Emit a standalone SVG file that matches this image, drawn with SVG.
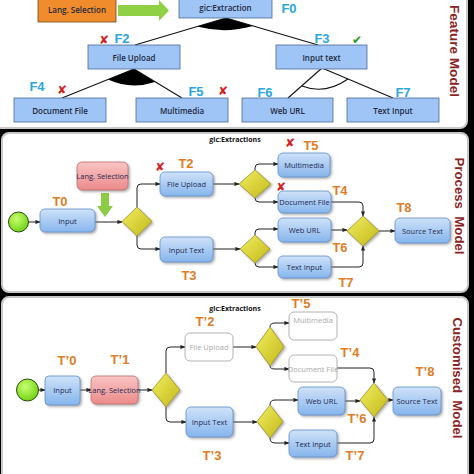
<svg xmlns="http://www.w3.org/2000/svg" width="474" height="474" viewBox="0 0 474 474">
<defs>
<linearGradient id="gb" x1="0" y1="0" x2="0" y2="1"><stop offset="0" stop-color="#cfe2f9"/><stop offset="1" stop-color="#86b5ec"/></linearGradient>
<linearGradient id="gp" x1="0" y1="0" x2="0" y2="1"><stop offset="0" stop-color="#f9c4c4"/><stop offset="1" stop-color="#ec8a8a"/></linearGradient>
<linearGradient id="gy" x1="0" y1="0" x2="1" y2="1"><stop offset="0" stop-color="#f2ee60"/><stop offset="1" stop-color="#c2b818"/></linearGradient>
<radialGradient id="gg" cx="0.4" cy="0.35" r="0.7"><stop offset="0" stop-color="#c8ff70"/><stop offset="1" stop-color="#6cd010"/></radialGradient>
<filter id="sh" x="-20%" y="-20%" width="150%" height="160%"><feDropShadow dx="1.5" dy="1.5" stdDeviation="1" flood-color="#777" flood-opacity="0.6"/></filter>
<marker id="ah" viewBox="0 0 6 6" refX="5.5" refY="3" markerWidth="5" markerHeight="5" orient="auto" markerUnits="userSpaceOnUse"><path d="M0,0.5 L6,3 L0,5.5 Z" fill="#222"/></marker>
<style>
.panel{fill:#fff;stroke:#c8c8c8;stroke-width:2}
.fm{fill:#9fc4f6;stroke:#4a6a98;stroke-width:0.8}
.fmt{font-family:"Open Sans","DejaVu Sans",sans-serif;font-size:8px;font-weight:600;fill:#1e2a40;text-anchor:middle;dominant-baseline:central}
.pb{fill:url(#gb);stroke:#5f8fcc;stroke-width:0.8;filter:url(#sh)}
.pk{fill:url(#gp);stroke:#c06c6c;stroke-width:0.8;filter:url(#sh)}
.wb{fill:#fff;stroke:#a0a0a0;stroke-width:0.8}
.dm{fill:url(#gy);stroke:#9a9020;stroke-width:0.8;filter:url(#sh)}
.pt{font-family:"Open Sans","DejaVu Sans",sans-serif;font-size:7.5px;fill:#1e2a50;text-anchor:middle;dominant-baseline:central}
.gt{font-family:"Open Sans","DejaVu Sans",sans-serif;font-size:7.5px;fill:#a8a8a8;text-anchor:middle;dominant-baseline:central}
.fl{font-family:"Liberation Sans",Arial,sans-serif;font-size:13px;font-weight:bold;fill:#2aa8de;text-anchor:middle;dominant-baseline:central}
.tl{font-family:"Liberation Sans",Arial,sans-serif;font-size:13px;font-weight:bold;fill:#e07d24;text-anchor:middle;dominant-baseline:central}
.x{font-family:"DejaVu Sans",sans-serif;font-size:12px;font-weight:bold;fill:#d42020;text-anchor:middle;dominant-baseline:central}
.ok{font-family:"DejaVu Sans",sans-serif;font-size:12px;font-weight:bold;fill:#2a9a2a;text-anchor:middle;dominant-baseline:central}
.side{font-family:"Liberation Sans",Arial,sans-serif;font-size:13.5px;font-weight:bold;fill:#8a2424;text-anchor:middle;dominant-baseline:central}
.hd{font-family:"Open Sans","DejaVu Sans",sans-serif;font-size:7px;font-weight:bold;fill:#111;text-anchor:middle;dominant-baseline:central}
.fc{stroke:#111;stroke-width:1.1;fill:none}
.pc{stroke:#222;stroke-width:1;fill:none;marker-end:url(#ah)}
</style>
</defs>
<rect width="474" height="474" fill="#000"/>
<rect class="panel" x="-6" y="-12" width="473" height="140" rx="7"/>
<rect class="panel" x="2" y="133" width="466" height="159" rx="7"/>
<rect class="panel" x="2" y="297" width="466" height="190" rx="7"/>

<!-- Feature model -->
<g id="fm-connectors">
<polygon points="118,5 159,5 159,0 169,10.5 159,21 159,16 118,16" fill="#8fd044"/>
<line class="fc" x1="226" y1="18" x2="135" y2="45"/>
<line class="fc" x1="226" y1="18" x2="318" y2="45"/>
<path d="M226,18 L197,26.6 Q225,34 253,26 Z" fill="#000"/>
<line class="fc" x1="134" y1="69" x2="62" y2="98"/>
<line class="fc" x1="134" y1="69" x2="182" y2="98"/>
<path d="M134,69 L108,79.5 Q131,90 155,82 Z" fill="#000"/>
<line class="fc" x1="322" y1="68" x2="288" y2="98"/>
<line class="fc" x1="322" y1="68" x2="393" y2="98"/>
<path class="fc" d="M302,86 Q325,95 348,79"/>
</g>
<g id="f-lang"><rect x="38" y="-2" width="78" height="24" fill="#f08c2c" stroke="#6a4a20" stroke-width="0.8"/><text class="fmt" x="77" y="9" font-size="8.5">Lang. Selection</text></g>
<g id="f0"><rect class="fm" x="179" y="-2" width="93" height="20"/><text class="fmt" x="225.5" y="7.5">gic:Extraction</text><text class="fl" x="289" y="8">F0</text></g>
<g id="f2"><rect class="fm" x="88" y="45" width="92" height="24"/><text class="fmt" x="134" y="57">File Upload</text><text class="fl" x="122" y="38">F2</text><text class="x" x="104" y="40">✘</text></g>
<g id="f3"><rect class="fm" x="276" y="45" width="91" height="24"/><text class="fmt" x="321.5" y="57">Input text</text><text class="fl" x="322" y="38">F3</text><text class="ok" x="357" y="40">✔</text></g>
<g id="f4"><rect class="fm" x="14" y="98" width="92" height="24"/><text class="fmt" x="60" y="110">Document File</text><text class="fl" x="37" y="86">F4</text><text class="x" x="62" y="90">✘</text></g>
<g id="f5"><rect class="fm" x="136" y="98" width="92" height="24"/><text class="fmt" x="182" y="110">Multimedia</text><text class="fl" x="196" y="91">F5</text><text class="x" x="223" y="91">✘</text></g>
<g id="f6"><rect class="fm" x="242" y="98" width="91" height="24"/><text class="fmt" x="287.5" y="110">Web URL</text><text class="fl" x="265" y="92">F6</text></g>
<g id="f7"><rect class="fm" x="347" y="98" width="92" height="24"/><text class="fmt" x="393" y="110">Text Input</text><text class="fl" x="403" y="92">F7</text></g>
<text class="side" transform="translate(454,51) rotate(90)" textLength="92" lengthAdjust="spacingAndGlyphs">Feature Model</text>

<!-- Process model -->
<text class="hd" x="235" y="139.5">gic:Extractions</text>
<g id="p-connectors">
<polygon points="101,193 109,193 109,206 113,206 105,217 97,206 101,206" fill="#8ccc44"/>
<path class="pc" d="M29,222 L40,222"/>
<path class="pc" d="M95,222 L122,222"/>
<path class="pc" d="M137,207 L137,188 Q137,184 141,184 L160,184"/>
<path class="pc" d="M137,236 L137,245 Q137,249 141,249 L160,249"/>
<path class="pc" d="M213,184 L239,184"/>
<path class="pc" d="M213,249 L240,249"/>
<path class="pc" d="M255,170 L255,168 Q255,164 259,164 L278,164"/>
<path class="pc" d="M255,198 Q255,202 259,202 L278,202"/>
<path class="pc" d="M255,235 L255,233 Q255,229 259,229 L278,229"/>
<path class="pc" d="M255,263 Q255,267 259,267 L278,267"/>
<path class="pc" d="M331,230 L347,230"/>
<path class="pc" d="M331,202 L359,202 Q363,202 363,206 L363,216"/>
<path class="pc" d="M331,267 L359,267 Q363,267 363,263 L363,246"/>
<path class="pc" d="M379,231 L395,231"/>
</g>
<g id="p-start"><circle cx="18.5" cy="222" r="10" fill="url(#gg)" stroke="#2a4a10" stroke-width="1"/></g>
<g id="t0"><rect class="pb" x="40" y="209" width="55" height="23" rx="5"/><text class="pt" x="67.5" y="220.5">Input</text><text class="tl" x="60" y="201">T0</text></g>
<g id="p-lang"><rect class="pk" x="77" y="162" width="51" height="28" rx="5"/><text class="pt" x="102.5" y="176">Lang. Selection</text></g>
<g id="p-d1"><polygon class="dm" points="137,207 152,221.5 137,236 122,221.5"/></g>
<g id="t2"><rect class="pb" x="160" y="172" width="53" height="24" rx="5"/><text class="pt" x="186.5" y="184">File Upload</text><text class="tl" x="186" y="163">T2</text><text class="x" x="160" y="167">✘</text></g>
<g id="t3"><rect class="pb" x="160" y="237" width="53" height="25" rx="5"/><text class="pt" x="186.5" y="249.5">Input Text</text><text class="tl" x="189" y="275">T3</text></g>
<g id="p-d2"><polygon class="dm" points="255,170 271,184 255,198 239,184"/></g>
<g id="p-d3"><polygon class="dm" points="255,235 270,249 255,263 240,249"/></g>
<g id="t5"><rect class="pb" x="278" y="153" width="52" height="24" rx="5"/><text class="pt" x="304" y="165">Multimedia</text><text class="tl" x="311" y="145">T5</text><text class="x" x="290" y="143">✘</text></g>
<g id="t4"><rect class="pb" x="278" y="191" width="53" height="22" rx="5"/><text class="pt" x="304.5" y="202">Document File</text><text class="tl" x="340" y="190">T4</text><text class="x" x="281" y="187">✘</text></g>
<g id="t6"><rect class="pb" x="278" y="218" width="53" height="24" rx="5"/><text class="pt" x="304.5" y="230">Web URL</text><text class="tl" x="340" y="247">T6</text></g>
<g id="t7"><rect class="pb" x="278" y="256" width="53" height="22" rx="5"/><text class="pt" x="304.5" y="267">Text Input</text><text class="tl" x="346" y="282">T7</text></g>
<g id="p-d4"><polygon class="dm" points="363,216 379,231 363,246 347,231"/></g>
<g id="t8"><rect class="pb" x="395" y="218" width="55" height="25" rx="5"/><text class="pt" x="422.5" y="230.5">Source Text</text><text class="tl" x="404" y="207">T8</text></g>
<text class="side" transform="translate(459,206) rotate(90)" textLength="97" lengthAdjust="spacingAndGlyphs" xml:space="preserve">Process  Model</text>

<!-- Customised model -->
<text class="hd" x="235" y="308">gic:Extractions</text>
<g id="c-connectors">
<path class="pc" d="M38,390 L45,390"/>
<path class="pc" d="M80,390 L91,390"/>
<path class="pc" d="M138,390 L152,390"/>
<path class="pc" d="M166,373 L166,351 Q166,347 170,347 L185,347"/>
<path class="pc" d="M166,407 L166,418 Q166,422 170,422 L186,422"/>
<path class="pc" d="M233,347 L256,347"/>
<path class="pc" d="M270,327 Q270,323 275,323 L289,323"/>
<path class="pc" d="M270,366 Q270,369 275,369 L289,369"/>
<path class="pc" d="M233,422 L257,422"/>
<path class="pc" d="M270,405 Q270,400 275,400 L298,400"/>
<path class="pc" d="M270,438 Q270,443 275,443 L289,443"/>
<path class="pc" d="M345,401 L360,401"/>
<path class="pc" d="M337,368 L370,368 Q374,368 374,372 L374,383"/>
<path class="pc" d="M337,443 L370,443 Q374,443 374,439 L374,417"/>
<path class="pc" d="M388,400 L393,400"/>
</g>
<g id="c-start"><circle cx="27.5" cy="390" r="11" fill="url(#gg)" stroke="#2a4a10" stroke-width="1"/></g>
<g id="tp0"><rect class="pb" x="45" y="376" width="35" height="29" rx="4"/><text class="pt" x="62.5" y="390">Input</text><text class="tl" x="67" y="360">T’0</text></g>
<g id="tp1"><rect class="pk" x="91" y="376" width="47" height="28" rx="5"/><text class="pt" x="114.5" y="390" font-size="7">Lang. Selection</text><text class="tl" x="120" y="359">T’1</text></g>
<g id="c-d1"><polygon class="dm" points="166,373 180,390 166,407 152,390"/></g>
<g id="tp2"><rect class="wb" x="185" y="333" width="48" height="28" rx="5"/><text class="gt" x="209" y="347">File Upload</text><text class="tl" x="205" y="321">T’2</text></g>
<g id="tp3"><rect class="pb" x="186" y="407" width="47" height="30" rx="5"/><text class="pt" x="209.5" y="422">Input Text</text><text class="tl" x="212" y="455">T’3</text></g>
<g id="c-d2"><polygon class="dm" points="270,327 284,346.5 270,366 256,346.5"/></g>
<g id="c-d3"><polygon class="dm" points="270,405 283,421.5 270,438 257,421.5"/></g>
<g id="tp5"><rect class="wb" x="289" y="312" width="48" height="28" rx="5"/><text class="gt" x="313" y="320">Multimedia</text><text class="tl" x="301" y="303">T’5</text></g>
<g id="tp4"><rect class="wb" x="289" y="355" width="48" height="27" rx="5"/><text class="gt" x="313" y="368.5">Document File</text><text class="tl" x="350" y="352">T’4</text></g>
<g id="tp6"><rect class="pb" x="298" y="387" width="47" height="28" rx="5"/><text class="pt" x="321.5" y="401">Web URL</text><text class="tl" x="357" y="418">T’6</text></g>
<g id="tp7"><rect class="pb" x="289" y="430" width="48" height="27" rx="5"/><text class="pt" x="313" y="443.5">Text Input</text><text class="tl" x="355" y="455">T’7</text></g>
<g id="c-d4"><polygon class="dm" points="374,383 388,400 374,417 360,400"/></g>
<g id="tp8"><rect class="pb" x="393" y="387" width="48" height="28" rx="5"/><text class="pt" x="417" y="401">Source Text</text><text class="tl" x="425" y="371">T’8</text></g>
<text class="side" transform="translate(457,378) rotate(90)" textLength="121" lengthAdjust="spacingAndGlyphs" xml:space="preserve">Customised  Model</text>
</svg>
